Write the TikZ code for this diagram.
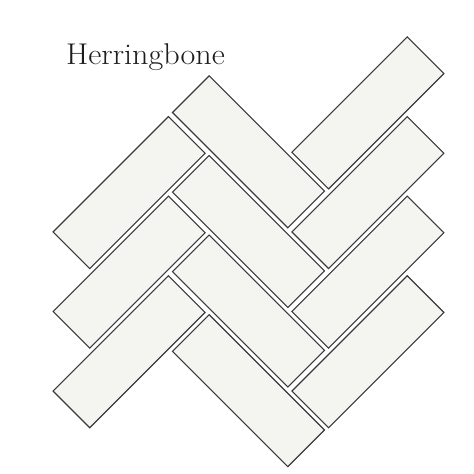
\documentclass[tikz,border=0pt]{standalone}
\usepackage{fontspec}
\definecolor{tilefill}{HTML}{F4F4F1}
\definecolor{tileline}{HTML}{3A3A3A}
\definecolor{titlecol}{HTML}{1C1C1C}
\begin{document}
\begin{tikzpicture}[
  tile/.style={fill=tilefill, draw=tileline, line width=1.1pt, line join=miter},
  titletext/.style={anchor=base west, inner sep=0pt, text=titlecol, xscale=1.07, font=\fontsize{30}{32}\selectfont}
]
\useasboundingbox (0pt,-474pt) rectangle (474pt,0pt);
\node[titletext] (title) at (66pt,-64pt) {Herringbone};
\begin{scope}[x={(0.5pt,-0.5pt)}, y={(0.5pt,0.5pt)}]
  \foreach \k in {0,1,2} {
    \draw[tile] ({285+79.6*\k},{-178.8-79.6*\k}) -- ++(73.3,0) -- ++(0,230.7) -- ++(-73.3,0) -- cycle;
  }
  \foreach \k in {0,1,2,3} {
    \draw[tile] ({285+79.6*\k},{60-79.6*\k}) -- ++(230.7,0) -- ++(0,73.3) -- ++(-230.7,0) -- cycle;
    \draw[tile] ({444.2+79.6*\k},{139.6-79.6*\k}) -- ++(73.3,0) -- ++(0,230.7) -- ++(-73.3,0) -- cycle;
  }
\end{scope}
\end{tikzpicture}
\end{document}
